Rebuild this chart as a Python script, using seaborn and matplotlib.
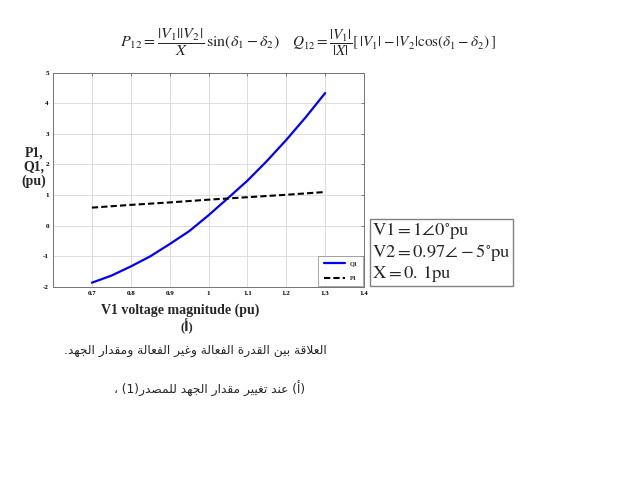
import numpy as np
import pandas as pd
import matplotlib
matplotlib.use("Agg")
import matplotlib.pyplot as plt
import seaborn as sns

# values
v1_q = [0.70, 0.75, 0.80, 0.85, 0.90, 0.95, 1.00, 1.05, 1.10, 1.15, 1.20, 1.25, 1.30]
q1 = [-1.86, -1.63, -1.33, -1.00, -0.60, -0.18, 0.34, 0.90, 1.47, 2.11, 2.80, 3.54, 4.33]
v1_p = [0.70, 0.80, 0.90, 1.00, 1.10, 1.20, 1.30]
p1 = [0.59, 0.68, 0.76, 0.85, 0.93, 1.01, 1.10]

x_ticks = [0.7, 0.8, 0.9, 1.0, 1.1, 1.2, 1.3, 1.4]
x_tick_labels = ["0.7", "0.8", "0.9", "1", "1.1", "1.2", "1.3", "1.4"]
y_ticks = [-2, -1, 0, 1, 2, 3, 4, 5]

caption_1 = "العلاقة بين القدرة الفعالة وغير الفعالة ومقدار الجهد."
caption_2 = "(أ) عند تغيير مقدار الجهد للمصدر(1) ،"
sub_label = "(أ)"

# Arabic presentation forms: isolated, final, initial, medial
FORMS = {
    "\u0627": (0xFE8D, 0xFE8E, None, None),
    "\u0623": (0xFE83, 0xFE84, None, None),
    "\u0628": (0xFE8F, 0xFE90, 0xFE91, 0xFE92),
    "\u0629": (0xFE93, 0xFE94, None, None),
    "\u062A": (0xFE95, 0xFE96, 0xFE97, 0xFE98),
    "\u062C": (0xFE9D, 0xFE9E, 0xFE9F, 0xFEA0),
    "\u062F": (0xFEA9, 0xFEAA, None, None),
    "\u0631": (0xFEAD, 0xFEAE, None, None),
    "\u0635": (0xFEB9, 0xFEBA, 0xFEBB, 0xFEBC),
    "\u0639": (0xFEC9, 0xFECA, 0xFECB, 0xFECC),
    "\u063A": (0xFECD, 0xFECE, 0xFECF, 0xFED0),
    "\u0641": (0xFED1, 0xFED2, 0xFED3, 0xFED4),
    "\u0642": (0xFED5, 0xFED6, 0xFED7, 0xFED8),
    "\u0644": (0xFEDD, 0xFEDE, 0xFEDF, 0xFEE0),
    "\u0645": (0xFEE1, 0xFEE2, 0xFEE3, 0xFEE4),
    "\u0646": (0xFEE5, 0xFEE6, 0xFEE7, 0xFEE8),
    "\u0647": (0xFEE9, 0xFEEA, 0xFEEB, 0xFEEC),
    "\u0648": (0xFEED, 0xFEEE, None, None),
    "\u064A": (0xFEF1, 0xFEF2, 0xFEF3, 0xFEF4),
    "LA": (0xFEFB, 0xFEFC, None, None),
    "LAH": (0xFEF7, 0xFEF8, None, None),
}


# matplotlib has no arabic shaping, so join letters and lay them out by hand
def shape_arabic(text):
    tokens = []
    i = 0
    while i < len(text):
        c = text[i]
        if c == "\u0644" and i + 1 < len(text) and text[i + 1] in "\u0627\u0623":
            tokens.append("LA" if text[i + 1] == "\u0627" else "LAH")
            i += 2
        else:
            tokens.append(c)
            i += 1
    out = []
    for j, tok in enumerate(tokens):
        forms = FORMS.get(tok)
        if forms is None:
            out.append(tok)
            continue
        prev = tokens[j - 1] if j > 0 else None
        nxt = tokens[j + 1] if j + 1 < len(tokens) else None
        join_prev = prev in FORMS and FORMS[prev][2] is not None
        join_next = forms[2] is not None and nxt in FORMS
        if join_prev and join_next:
            code = forms[3]
        elif join_prev:
            code = forms[1]
        elif join_next:
            code = forms[2]
        else:
            code = forms[0]
        out.append(chr(code))
    visual = "".join(out)[::-1]
    return visual.translate(str.maketrans("()", ")("))


sns.set_style("white")
plt.rcParams["mathtext.fontset"] = "stix"
plt.rcParams["axes.unicode_minus"] = False
serif = ["Liberation Serif", "DejaVu Sans"]

fig = plt.figure(figsize=(6.38, 4.78), dpi=100)
ax = fig.add_axes([0.0831, 0.3996, 0.4875, 0.4487])

df_q = pd.DataFrame({"v1": v1_q, "val": q1})
df_p = pd.DataFrame({"v1": v1_p, "val": p1})
sns.lineplot(data=df_q, x="v1", y="val", ax=ax, color="#0000ff", lw=1.6, label="Q1")
sns.lineplot(data=df_p, x="v1", y="val", ax=ax, color="black", lw=1.5,
             linestyle=(0, (3, 1.5)), label="P1")

ax.set_xlim(0.6, 1.4)
ax.set_ylim(-2, 5)
ax.set_xticks(x_ticks)
ax.set_xticklabels(x_tick_labels)
ax.set_yticks(y_ticks)
ax.grid(True, color="#d8d8d8", lw=0.6)
ax.tick_params(direction="in", length=2.5, width=0.5, top=True, right=True,
               labelsize=5, pad=3, colors="0.35", labelcolor="black")
for lab in ax.get_xticklabels() + ax.get_yticklabels():
    lab.set_family(serif)
    lab.set_fontweight("bold")
for sp in ax.spines.values():
    sp.set_color("0.45")
    sp.set_linewidth(0.7)

ax.set_xlabel("V1 voltage magnitude (pu)", family=serif, fontweight="bold", fontsize=10)
ax.xaxis.set_label_coords(0.408, -0.075)
ax.set_ylabel("P1,\nQ1,\n(pu)", family=serif, fontweight="bold", fontsize=10,
              rotation=0, ha="center", va="center", linespacing=1.1)
ax.yaxis.set_label_coords(-0.061, 0.56)

leg = ax.legend(loc="lower right", fontsize=4.5, frameon=True, fancybox=False,
                borderpad=0.9, handlelength=3.4, labelspacing=1.4, borderaxespad=0.1)
leg.get_frame().set_edgecolor("0.5")
leg.get_frame().set_linewidth(0.6)
for t in leg.get_texts():
    t.set_family(serif)
    t.set_fontweight("bold")

fig.text(0.3135, 0.912, r"$P_{12}=\dfrac{|V_1||V_2|}{X}\,\sin(\delta_1-\delta_2)$",
         fontsize=11.5, ha="center", va="center")
fig.text(0.6176, 0.912,
         r"$Q_{12}=\dfrac{|V_1|}{|X|}[\,|V_1|-|V_2|\cos(\delta_1-\delta_2)\,]$",
         fontsize=11, ha="center", va="center")

box_text = (r"$\mathrm{V1=1\angle0^{\circ}pu}$" "\n"
            r"$\mathrm{V2=0.97\angle-5^{\circ}pu}$" "\n"
            r"$\mathrm{X=0.\,1pu}$")
fig.text(0.583, 0.4718, box_text, fontsize=13.3, ha="left", va="center", linespacing=1.08,
         bbox=dict(boxstyle="square,pad=0.12", fc="white", ec="0.5", lw=1.0))

fig.text(0.293, 0.316, shape_arabic(sub_label), family=serif, fontweight="bold",
         fontsize=9, ha="center", va="center")
fig.text(0.3056, 0.266, shape_arabic(caption_1), family=["DejaVu Sans"],
         fontsize=8.8, ha="center", va="center")
fig.text(0.329, 0.186, shape_arabic(caption_2), family=["DejaVu Sans"],
         fontsize=8.8, ha="center", va="center")

fig.savefig("out.png", dpi=100)
